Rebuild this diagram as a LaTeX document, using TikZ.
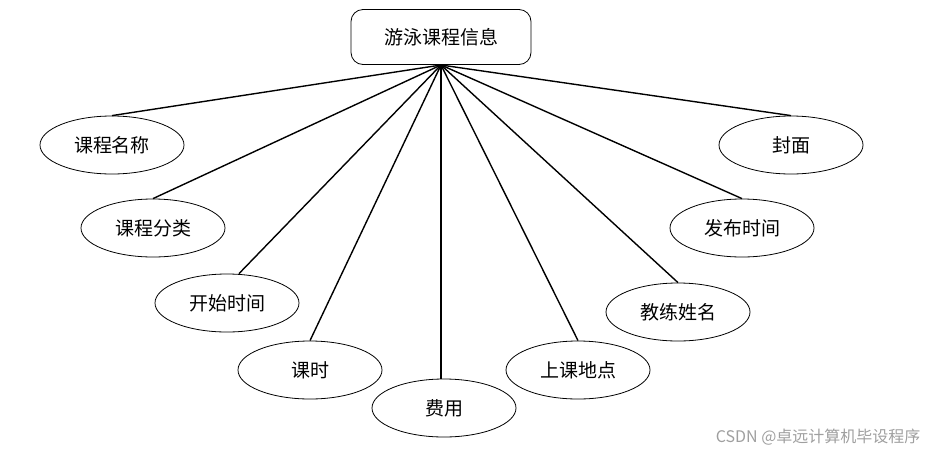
\documentclass[tikz,border=0pt]{standalone}
\usepackage{fontspec}
\newfontfamily\cjk{Noto Sans CJK SC}
\usetikzlibrary{shapes.geometric}
\begin{document}
\begin{tikzpicture}[x=1pt,y=-1pt,
  ent/.style={draw,rounded corners=12pt,minimum width=180pt,minimum height=55pt,font=\cjk\fontsize{19}{19}\selectfont,line width=0.8pt},
  attr/.style={draw,ellipse,minimum width=144pt,minimum height=58pt,font=\cjk\fontsize{19}{19}\selectfont,line width=0.8pt},
  con/.style={line width=1.4pt}]
\useasboundingbox (0,0) rectangle (938,456);
\node[ent] (top) at (441,37) {游泳课程信息};
\coordinate (hub) at (441,65);
\node[attr] (a1) at (112,145) {课程名称};
\node[attr] (a2) at (153,228) {课程分类};
\node[attr] (a3) at (227,303) {开始时间};
\node[attr] (a4) at (310,370) {课时};
\node[attr] (a5) at (444,408) {费用};
\node[attr] (a6) at (578,370) {上课地点};
\node[attr] (a7) at (678,312) {教练姓名};
\node[attr] (a8) at (742,228) {发布时间};
\node[attr] (a9) at (791,145) {封面};
\draw[con] (hub) -- (a1.north);
\draw[con] (hub) -- (a2.north);
\draw[con] (hub) -- ([xshift=12pt]a3.north);
\draw[con] (hub) -- (a4.north);
\draw[con] (hub) -- ([xshift=-3pt]a5.north);
\draw[con] (hub) -- (a6.north);
\draw[con] (hub) -- (a7.north);
\draw[con] (hub) -- (a8.north);
\draw[con] (hub) -- (a9.north);
\node[font=\cjk\fontsize{16}{16}\selectfont,text=gray!75,anchor=east] (wm) at (924,437) {CSDN @卓远计算机毕设程序};
\end{tikzpicture}
\end{document}
